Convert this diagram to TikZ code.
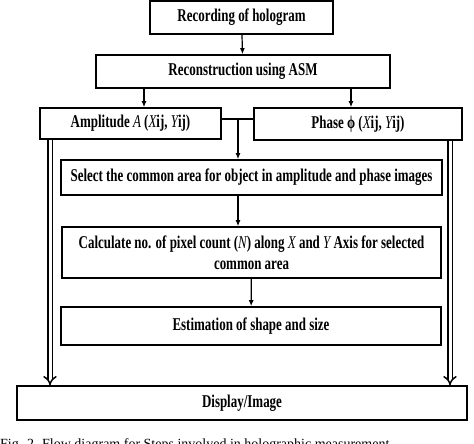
\documentclass[tikz,border=0pt]{standalone}
\usepackage{fontspec}
\setmainfont{Liberation Serif}[FakeStretch=0.72]
\newfontfamily\capfont{Liberation Serif}
\usetikzlibrary{arrows.meta}
\newcommand\mi[1]{{\normalfont\itshape #1}}
\begin{document}
\begin{tikzpicture}[x=1pt,y=-1pt,
  box/.style={draw,line width=1.6pt,inner sep=0pt,font=\fontsize{18}{21}\selectfont\bfseries,align=center},
  arr/.style={line width=1.2pt,-{Latex[length=6pt,width=5pt]}},
  dbl/.style={double,double distance=3pt,line width=1.5pt,-{Implies}},
  lnk/.style={line width=1.2pt}]
\useasboundingbox (0,0) rectangle (474,444);
\node[box,minimum width=183pt,minimum height=33pt] (rec) at (241.5,17.5) {Recording of hologram};
\draw[line width=3pt] (rec.north west) -- (rec.north east);
\node[box,minimum width=294pt,minimum height=33pt] (rcn) at (243,71.5) {Reconstruction using ASM};
\node[box,minimum width=181pt,minimum height=31pt] (amp) at (130.5,123.5) {Amplitude \mi{A} (\mi{X}ij, \mi{Y}ij)};
\node[box,minimum width=208pt,minimum height=32pt] (pha) at (358,124) {Phase ϕ (\mi{X}ij, \mi{Y}ij)};
\node[box,minimum width=381pt,minimum height=35pt] (sel) at (251.5,177.5) {Select the common area for object in amplitude and phase images};
\node[box,minimum width=379pt,minimum height=51pt] (cal) at (251.5,252.5) {Calculate no. of pixel count (\mi{N}) along \mi{X} and \mi{Y} Axis for selected\\common area};
\node[box,minimum width=380pt,minimum height=38pt] (est) at (251,326) {Estimation of shape and size};
\node[box,minimum width=450pt,minimum height=34pt] (dis) at (242,403) {Display/Image};
\node[anchor=base west,inner sep=0pt,font=\capfont\fontsize{14}{16}\selectfont] (cap) at (0,448) {Fig. 2. Flow diagram for Steps involved in holographic measurement};
\coordinate (xa) at (144,0);
\coordinate (xb) at (351,0);
\coordinate (j) at (238,119);
\coordinate (xl) at (50,0);
\coordinate (xr) at (450,0);
\draw[arr] (rec) -- (rcn);
\draw[arr] (rcn.south -| xa) -- (amp.north -| xa);
\draw[arr] (rcn.south -| xb) -- (pha.north -| xb);
\draw[lnk] (amp.east |- j) -- (pha.west |- j);
\draw[arr] (j) -- (sel.north -| j);
\draw[arr] (sel.south -| j) -- (cal.north -| j);
\draw[arr] (cal) -- (est);
\draw[dbl] (amp.south -| xl) -- (dis.north -| xl);
\draw[dbl] (pha.south -| xr) -- (dis.north -| xr);
\end{tikzpicture}
\end{document}
